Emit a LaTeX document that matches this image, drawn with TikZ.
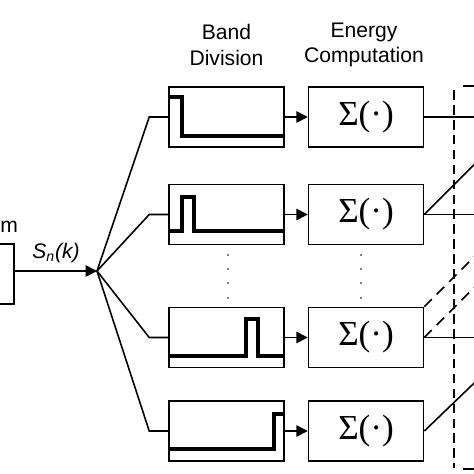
\documentclass[tikz,border=0pt]{standalone}
\usepackage{fontspec}
\setmainfont{Liberation Sans}
\newfontfamily\sumfont{Liberation Serif}
\usetikzlibrary{positioning}
\usetikzlibrary{arrows.meta}
\tikzset{blk/.style={draw, line width=0.9pt, minimum width=2.3cm, minimum height=1.2cm, inner sep=0pt}}
\tikzset{conn/.style={line width=0.9pt}}
\tikzset{wave/.style={line width=2pt}}
\tikzset{tip/.style={-{Triangle[length=6.5pt,width=6.5pt]}}}
\tikzset{lbl/.style={font=\fontsize{12}{14.7}\selectfont, align=center}}

\begin{document}
\begin{tikzpicture}[x=0.02cm, y=-0.02cm]
\useasboundingbox (0,0) rectangle (474,474);
\clip (0,0) rectangle (474,474);
\coordinate (rim) at (474,0);
% source block (cut by the left edge)
\node[blk, anchor=east] (src) at (15,274) {};
\node[lbl, anchor=base west, inner sep=0pt] (srclbl) at (0,232) {m};
\coordinate (fan) at (97,271);
\draw[conn, tip] (src.east |- fan) -- (fan) node[midway, above=1pt, lbl, font=\fontsize{12}{14}\selectfont\itshape] (sn) {S\textsubscript{n}(k)};
% band division and energy blocks
\node[blk] (bd1) at (226.5,117) {};
\node[blk] (bd2) at (226.5,214.5) {};
\node[blk] (bd3) at (226.5,337.5) {};
\node[blk] (bd4) at (226.5,431) {};
\foreach \i in {1,...,4} {
\node[blk, right=0.46cm of bd\i, font=\fontsize{20}{22}\sumfont] (sm\i) {Σ(·)};
\draw[conn] (fan) -- ([xshift=-0.38cm]bd\i.west) -- (bd\i.west);
\draw[conn, tip] (bd\i.east) -- (sm\i.west);
}
\node[lbl] (bdlbl) at (226.5,45) {Band\\Division};
\node[lbl] (smlbl) at (364,45) {Energy\\Computation};
% pass bands
\draw[wave] (169,97) -- (182,97) -- (182,136) -- (284,136);
\draw[wave] (169,231) -- (182,231) -- (182,197) -- (194,197) -- (194,231) -- (284,231);
\draw[wave] (169,356) -- (246,356) -- (246,319) -- (258,319) -- (258,356) -- (284,356);
\draw[wave] (169,449) -- (274,449) -- (274,414) -- (284,414);
% dots
\foreach \y in {255,269,283,298} {
\fill (228,\y) circle (0.55pt);
\fill (361,\y) circle (0.55pt);
}
% outputs
\foreach \i in {1,...,3} {
\draw[conn] (sm\i.east) -- (sm\i.east -| rim);
}
\draw[conn] (sm2.east) -- ++(53,-53);
\draw[conn, dash pattern=on 6pt off 4pt] (sm3.north east) -- ++(53,-53);
\draw[conn, dash pattern=on 6pt off 4pt] (sm3.east) -- ++(53,-53);
\draw[conn] (sm4.east) -- ++(53,-51);
\draw[conn, dash pattern=on 5.5pt off 3pt] (454,90) -- (454,468);
\draw[conn] (463,86) -- (480,86);
\draw[conn] (463,469) -- (480,469);
\end{tikzpicture}
\end{document}
